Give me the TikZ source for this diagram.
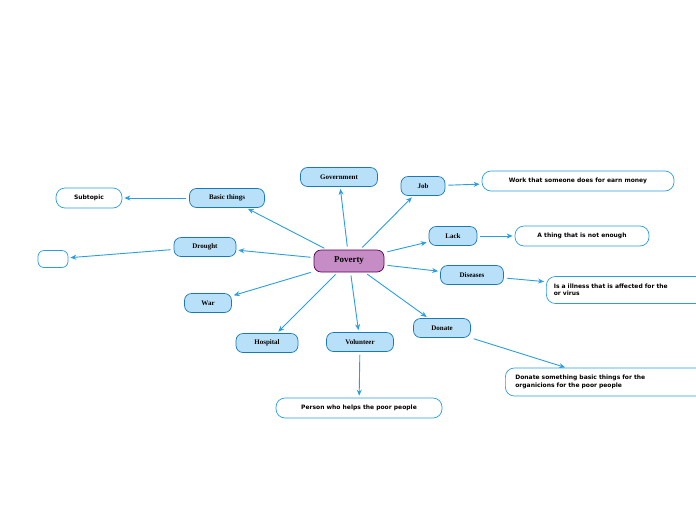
\documentclass[tikz,border=0pt]{standalone}
\usepackage{fontspec}
\setmainfont{Liberation Serif}
\newfontfamily\vf{DejaVu Sans}
\usetikzlibrary{arrows.meta}
\definecolor{ln}{HTML}{2A9EE0}
\definecolor{bf}{HTML}{B8E0F8}
\definecolor{bd}{HTML}{1A7AB8}
\tikzset{
 topic/.style={draw=bd,fill=bf,rounded corners=7pt,minimum height=19pt,font=\bfseries\fontsize{7}{8}\selectfont,inner sep=1pt,line width=0.7pt},
 sub/.style={draw=ln,fill=white,rounded corners=9pt,minimum height=20pt,font=\vf\bfseries\fontsize{6}{7.5}\selectfont,inner sep=1pt,line width=0.7pt},
 con/.style={draw=ln,line width=0.9pt,-{Stealth[length=6pt,width=5pt]},shorten >=2pt,shorten <=3pt}
}
\begin{document}
\begin{tikzpicture}[x=1pt,y=-1pt]
\useasboundingbox (0,0) rectangle (696,520);
\node[topic,fill=violet!45!white,draw=violet!70!black,minimum width=70pt,minimum height=22pt,font=\bfseries\fontsize{9}{10}\selectfont] (p) at (349,261) {Poverty};
\node[topic,minimum width=77pt] (gov) at (339,177) {Government};
\node[topic,minimum width=44pt] (job) at (423,186) {Job};
\node[topic,minimum width=75pt] (basic) at (227,198) {Basic things};
\node[topic,minimum width=48pt] (lack) at (453,236) {Lack};
\node[topic,minimum width=62pt] (dro) at (205,247) {Drought};
\node[topic,minimum width=63pt] (dis) at (472,275) {Diseases};
\node[topic,minimum width=47pt] (war) at (208,303) {War};
\node[topic,minimum width=62pt] (hos) at (267,343) {Hospital};
\node[topic,minimum width=67pt] (vol) at (360,342) {Volunteer};
\node[topic,minimum width=57pt] (don) at (442,328) {Donate};
\node[sub,minimum width=66pt] (subt) at (89,198) {Subtopic};
\node[sub,minimum width=30pt,minimum height=17pt,rounded corners=6pt] (emp) at (53,259) {};
\node[sub,minimum width=192pt] (work) at (578,181) {Work that someone does for earn money};
\node[sub,minimum width=134pt] (ath) at (582,236) {A thing that is not enough};
\node[sub,minimum width=180pt,minimum height=27pt,align=left,anchor=west,text width=165pt] (ill) at (546,290) {Is a illness that is affected for the\\or virus};
\node[sub,minimum width=220pt,minimum height=28pt,align=left,anchor=west,text width=200pt] (dsb) at (505,382) {Donate something basic things for the\\organicions for the poor people};
\node[sub,minimum width=166pt] (per) at (359,408) {Person who helps the poor people};
\foreach \t in {gov,job,basic,lack,dro,dis,war,hos,vol,don} \draw[con] (p) -- (\t);
\draw[con] (basic) -- (subt);
\draw[con] (dro) -- (emp);
\draw[con] (job) -- (work);
\draw[con] (lack) -- (ath);
\draw[con] (dis) -- (ill);
\draw[con] (don.south east) -- (567,368);
\draw[con] (vol) -- (per);
\end{tikzpicture}
\end{document}
